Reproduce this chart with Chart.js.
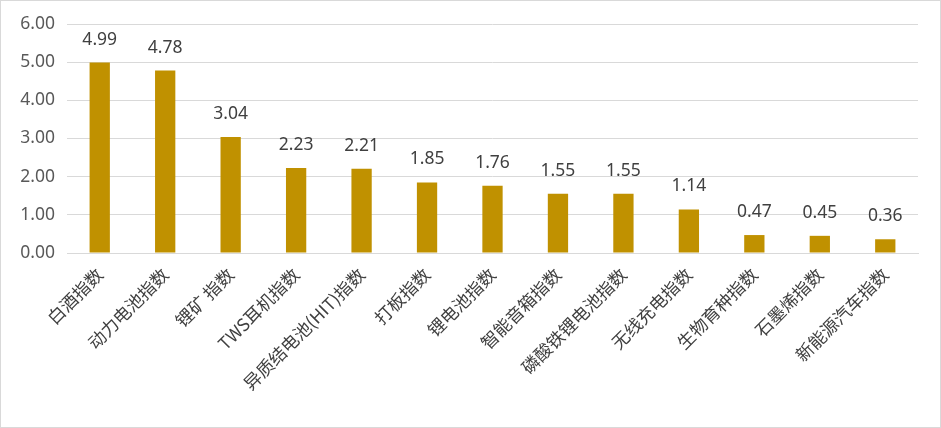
<!DOCTYPE html>
<html><head><meta charset="utf-8">
<script src="https://cdn.jsdelivr.net/npm/chart.js@4/dist/chart.umd.min.js"></script>
<style>
html,body{margin:0;padding:0;background:#fff;}
#wrap{width:941px;height:428px;box-sizing:border-box;border:1px solid #D9D9D9;position:relative;}
</style></head>
<body>
<div id="wrap"><canvas id="c" width="939" height="426"></canvas></div>
<script>
const categories = ["白酒指数","动力电池指数","锂矿 指数","TWS耳机指数","异质结电池(HIT)指数","打板指数","锂电池指数","智能音箱指数","磷酸铁锂电池指数","无线充电指数","生物育种指数","石墨烯指数","新能源汽车指数"];
const values = [4.99,4.78,3.04,2.23,2.21,1.85,1.76,1.55,1.55,1.14,0.47,0.45,0.36];
const yTicks = [0,1,2,3,4,5,6];

const labelPlugin = {
  id:'valLabels',
  afterDatasetsDraw(chart){
    const ctx = chart.ctx;
    const meta = chart.getDatasetMeta(0);
    ctx.save();
    ctx.font = '17.5px "Noto Sans", "Noto Sans CJK SC", sans-serif';
    ctx.fillStyle = '#404040';
    ctx.textAlign = 'center';
    ctx.textBaseline = 'alphabetic';
    meta.data.forEach((bar,i)=>{
      ctx.fillText(values[i].toFixed(2), bar.x, bar.y - 18);
    });
    ctx.restore();
  }
};

new Chart(document.getElementById('c'),{
  type:'bar',
  data:{labels:categories,datasets:[{data:values,backgroundColor:'#C09100',categoryPercentage:1,barPercentage:0.31}]},
  options:{
    responsive:false,animation:false,
    layout:{padding:{left:0,right:22,top:23,bottom:0}},
    plugins:{legend:{display:false},tooltip:{enabled:false}},
    scales:{
      x:{
        grid:{display:false},
        border:{display:true,color:'#D9D9D9',width:1},
        ticks:{font:{size:17.5,family:'"Noto Sans CJK SC", sans-serif'},color:'#404040',maxRotation:45,minRotation:45,autoSkip:false,padding:3},
        afterFit(s){s.height=174;}
      },
      y:{
        min:0,max:6,
        grid:{color:'#D9D9D9',lineWidth:1,drawTicks:false},
        border:{display:false},
        afterBuildTicks(s){s.ticks = yTicks.map(v=>({value:v}));},
        ticks:{font:{size:17.5,family:'"Noto Sans", sans-serif'},color:'#595959',padding:12,callback:v=>v.toFixed(2)},
        afterFit(s){s.width=66;}
      }
    }
  },
  plugins:[labelPlugin]
});
</script>
</body></html>
